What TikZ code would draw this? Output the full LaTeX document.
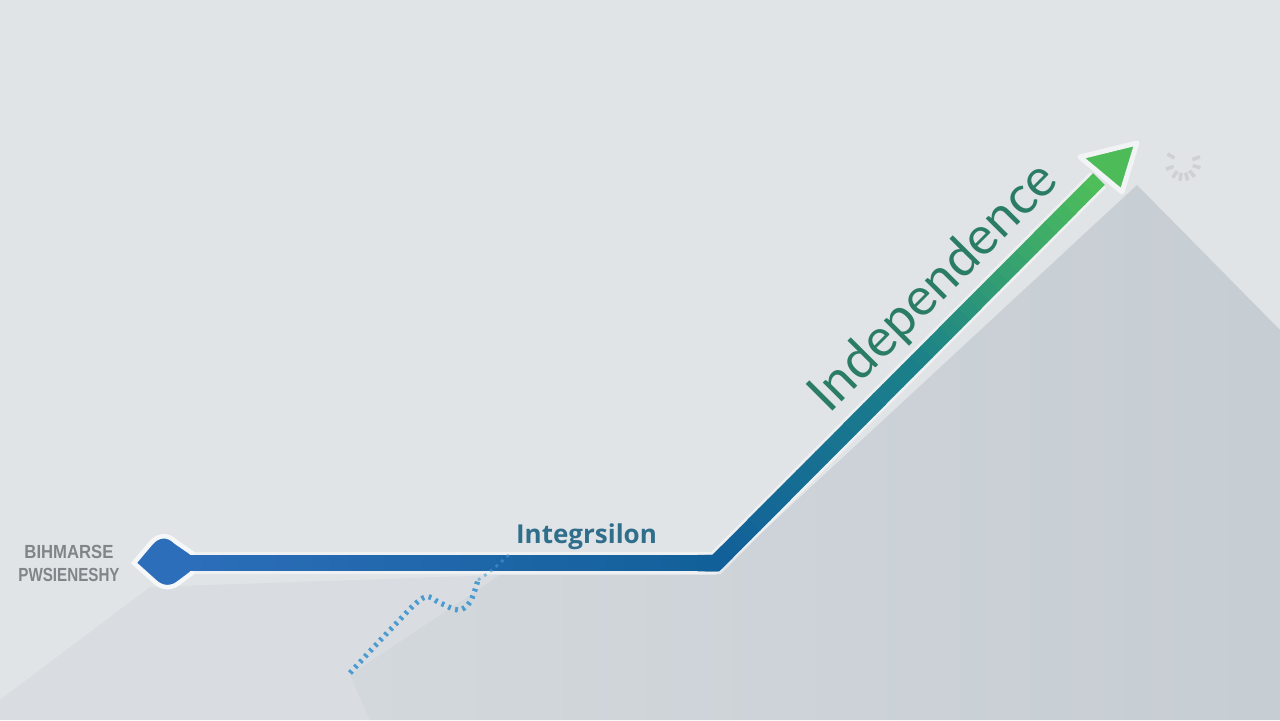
\documentclass[tikz,border=0pt]{standalone}
\usepackage{fontspec}
\setmainfont{Open Sans}
\newfontfamily\thinfont{Lato}
\newfontfamily\narrowfont{Liberation Sans}
\usetikzlibrary{calc}
\definecolor{bgcol}{HTML}{E1E4E7}
\definecolor{shadeL}{HTML}{D9DDE1}
\definecolor{shadeM}{HTML}{D3D8DC}
\definecolor{shadeR}{HTML}{C6CDD3}
\definecolor{blueL}{HTML}{2D6EBA}
\definecolor{blueD}{HTML}{12609A}
\definecolor{tealM}{HTML}{1B7F8A}
\definecolor{greenT}{HTML}{4DBE5A}
\definecolor{headgreen}{HTML}{4CBB58}
\definecolor{integcol}{HTML}{2F6F8C}
\definecolor{indepcol}{HTML}{2A7C66}
\definecolor{sidegray}{HTML}{80858A}
\definecolor{dotcol}{HTML}{4A9BD0}
\tikzset{
  trackline/.style={line width=1.65mm},
  glowline/.style={line width=2.2mm, white, opacity=.45, line join=miter},
  dotline/.style={color=dotcol, line width=1.5pt, dash pattern=on 0.8pt off 1.3pt},
  sidelabel/.style={font=\narrowfont\bfseries\fontsize{5.4}{6}\selectfont, text=sidegray, inner sep=0pt},
  integlabel/.style={font=\bfseries\fontsize{7.4}{9}\selectfont, text=integcol, inner sep=0pt},
  indeplabel/.style={font=\thinfont\fontsize{15}{18}\selectfont, text=indepcol, inner sep=0pt}
}
\begin{document}
\begin{tikzpicture}[x=0.1mm,y=0.1mm]
% backdrop
\fill[bgcol] (0,0) rectangle (1280,720);
\fill[shadeL] (0,0) -- (0,20) -- (150,133) -- (500,145) -- (350,45) -- (370,0) -- cycle;
\shade[left color=shadeM, right color=shadeR] (370,0) -- (350,45) -- (500,145) -- (716,145)
    -- (1137,535) -- (1280,390) -- (1280,0) -- cycle;

% track
\coordinate (start) at (165,157);
\coordinate (bend) at (716,157);
\coordinate (tip) at (1098,540);
\coordinate (mid) at ($(bend)!0.5!(tip)$);
\draw[glowline] (start) -- (bend) -- (tip);

% knob at the left end
\filldraw[fill=blueL, draw=white!70!bgcol, line width=0.45mm]
    (134,157) -- (150,176) .. controls (158,186) and (168,186) .. (176,178) -- (192,167)
    -- (192,147) -- (180,138) .. controls (172,131) and (162,131) .. (154,139) -- cycle;

\foreach \i in {0,...,29}{
  \pgfmathtruncatemacro\p{100*\i/29}
  \draw[trackline, color=blueD!\p!blueL] ($(start)!\i/30!(bend)$) -- ($(start)!{(\i+1.1)/30}!(bend)$);
}
\foreach \i in {0,...,19}{
  \pgfmathtruncatemacro\p{100*\i/19}
  \draw[trackline, color=tealM!\p!blueD] ($(bend)!\i/20!(mid)$) -- ($(bend)!{(\i+1.1)/20}!(mid)$);
  \draw[trackline, color=greenT!\p!tealM] ($(mid)!\i/20!(tip)$) -- ($(mid)!{(\i+1.1)/20}!(tip)$);
}
\draw[trackline, color=blueD, line join=miter] ($(start)!0.98!(bend)$) -- (bend) -- ($(bend)!0.03!(tip)$);

% arrow head
\coordinate (headA) at (1080,563);
\coordinate (headB) at (1137,577);
\coordinate (headC) at (1122,528);
\filldraw[fill=headgreen, draw=white!55!bgcol, line width=0.5mm, line join=round] (headA) -- (headB) -- (headC) -- cycle;

% labels
\path (start) -- (bend) node[pos=0.765, above=1.3mm, integlabel] (integ) {Integrsilon};
\path (bend) -- (tip) node[pos=0.645, sloped, above=1.5mm, indeplabel] (indep) {Independence};
\node[sidelabel, xscale=.88] (side1) at (69,168) {BIHMARSE};
\node[sidelabel, xscale=.8] (side2) at (69,145) {PWSIENESHY};

% dotted trail
\draw[dotline] plot[smooth, tension=.6] coordinates {(350,47) (390,90) (423,122) (440,117) (458,110) (470,118) (478,140)};
\draw[dotline, line width=0.8pt, opacity=.6] plot[smooth] coordinates {(478,140) (492,150) (512,168)};

% faint spark
\coordinate (spark) at (1183,557);
\foreach \a in {150,200,235,260,285,310,345,20}
  \draw[gray!60, opacity=.4, line width=0.35mm] ($(spark)+(\a:10)$) -- ($(spark)+(\a:18)$);
\end{tikzpicture}
\end{document}
